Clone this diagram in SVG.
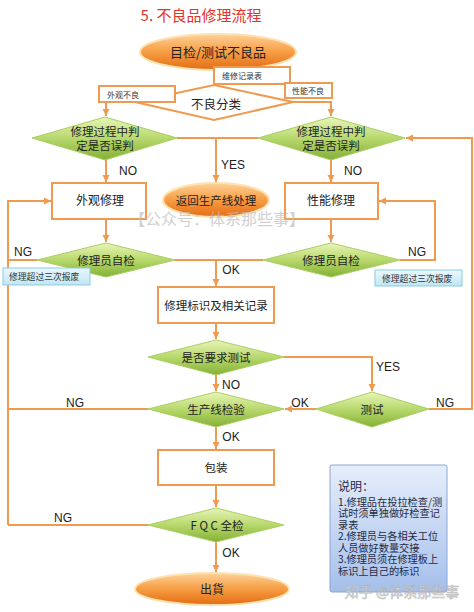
<svg xmlns="http://www.w3.org/2000/svg" width="474" height="612" viewBox="0 0 474 612">
<defs>
<linearGradient id="og" x1="0" y1="0" x2="0" y2="1">
<stop offset="0" stop-color="#fdd29a"/><stop offset="0.45" stop-color="#f8a24a"/><stop offset="1" stop-color="#e46c12"/>
</linearGradient>
<linearGradient id="gg" x1="0" y1="0" x2="0" y2="1">
<stop offset="0" stop-color="#e9f5b8"/><stop offset="0.5" stop-color="#b7d86c"/><stop offset="1" stop-color="#84b036"/>
</linearGradient>
<linearGradient id="bg" x1="0" y1="0" x2="0" y2="1">
<stop offset="0" stop-color="#eaf8fd"/><stop offset="1" stop-color="#bfe6f3"/>
</linearGradient>
<linearGradient id="ng" x1="0" y1="0" x2="0" y2="1">
<stop offset="0" stop-color="#e6eefb"/><stop offset="1" stop-color="#a5bfeb"/>
</linearGradient>
<marker id="ah" markerWidth="8" markerHeight="8" refX="7" refY="4" orient="auto" markerUnits="userSpaceOnUse">
<path d="M0,0.5 L7,4 L0,7.5 Z" fill="#f09a50"/>
</marker>
<style>
.ln{fill:none;stroke:#f09a50;stroke-width:2}
.bx{fill:#fff;stroke:#f09a50;stroke-width:2}
.gd{fill:url(#gg);stroke:#a9cf62;stroke-width:1}
.el{fill:url(#og);stroke:#fde2b0;stroke-width:2}
.t{font-family:"Noto Sans CJK SC","Microsoft YaHei",sans-serif;fill:#222;text-anchor:middle}
.s{font-family:"Noto Sans CJK SC","Microsoft YaHei",sans-serif;fill:#333;font-size:8px}
.lb{font-family:"Liberation Sans",Arial,sans-serif;fill:#222;font-size:12px;text-anchor:middle}
.tag{fill:url(#bg);stroke:#8ccbe0;stroke-width:1}
.nt{font-family:"Noto Sans CJK SC","Microsoft YaHei",sans-serif;fill:#1f2a44;font-size:10.2px}
</style>
</defs>
<rect width="474" height="612" fill="#fff"/>

<text x="201" y="21" class="t" style="font-size:15px;fill:#e2332d">5. 不良品修理流程</text>

<g id="connectors">
<path class="ln" d="M216,70 V85"/>
<path class="ln" d="M135,102 H106 V116" marker-end="url(#ah)"/>
<path class="ln" d="M293,102 H331 V116" marker-end="url(#ah)"/>
<path class="ln" d="M177,138 H258"/>
<path class="ln" d="M216,138 V182" marker-end="url(#ah)"/>
<path class="ln" d="M106,160 V182" marker-end="url(#ah)"/>
<path class="ln" d="M331,160 V182" marker-end="url(#ah)"/>
<path class="ln" d="M106,219 V242" marker-end="url(#ah)"/>
<path class="ln" d="M331,219 V242" marker-end="url(#ah)"/>
<path class="ln" d="M175,260 H263"/>
<path class="ln" d="M216,260 V286" marker-end="url(#ah)"/>
<path class="ln" d="M37,260 H8"/>
<path class="ln" d="M8,525 V201 H51" marker-end="url(#ah)"/>
<path class="ln" d="M400,260 H435 V201 H379" marker-end="url(#ah)"/>
<path class="ln" d="M216,323 V339" marker-end="url(#ah)"/>
<path class="ln" d="M284,357 H372 V391" marker-end="url(#ah)"/>
<path class="ln" d="M216,375 V391" marker-end="url(#ah)"/>
<path class="ln" d="M316,409 H285" marker-end="url(#ah)"/>
<path class="ln" d="M429,409 H472 V138 H406" marker-end="url(#ah)"/>
<path class="ln" d="M148,409 H8"/>
<path class="ln" d="M216,427 V449" marker-end="url(#ah)"/>
<path class="ln" d="M216,485 V507" marker-end="url(#ah)"/>
<path class="ln" d="M148,525 H8"/>
<path class="ln" d="M216,542 V572" marker-end="url(#ah)"/>
</g>

<g id="labels">
<text x="233" y="169" class="lb">YES</text>
<text x="128" y="175" class="lb">NO</text>
<text x="353" y="175" class="lb">NO</text>
<text x="23" y="256" class="lb">NG</text>
<text x="417" y="256" class="lb">NG</text>
<text x="231" y="274" class="lb">OK</text>
<text x="388" y="371" class="lb">YES</text>
<text x="231" y="389" class="lb">NO</text>
<text x="75" y="407" class="lb">NG</text>
<text x="300" y="407" class="lb">OK</text>
<text x="445" y="407" class="lb">NG</text>
<text x="231" y="441" class="lb">OK</text>
<text x="63" y="522" class="lb">NG</text>
<text x="231" y="557" class="lb">OK</text>
</g>

<g id="start">
<ellipse cx="218" cy="52" rx="78" ry="18" class="el"/>
<text x="218" y="57" class="t" style="font-size:13px">目检/测试不良品</text>
</g>
<g id="classify">
<polygon points="214,85 293,102 214,120 135,102" class="bx"/>
<text x="216" y="108.5" class="t" style="font-size:12.5px">不良分类</text>
</g>
<g id="record-tag">
<rect x="214" y="67" width="76" height="17" class="bx"/>
<text x="222" y="79" class="s">维修记录表</text>
</g>
<g id="tag-appearance">
<rect x="99" y="86" width="76" height="16" class="bx"/>
<text x="107" y="97.5" class="s">外观不良</text>
</g>
<g id="tag-function">
<rect x="285" y="83" width="47" height="15" class="bx"/>
<text x="292" y="94" class="s">性能不良</text>
</g>
<g id="judge-left">
<polygon points="32,138 105,117 177,138 105,160" class="gd"/>
<text x="105" y="136" class="t" style="font-size:11.5px">修理过程中判</text>
<text x="105" y="150" class="t" style="font-size:11.5px">定是否误判</text>
</g>
<g id="judge-right">
<polygon points="258,138 331,117 405,138 331,160" class="gd"/>
<text x="331" y="136" class="t" style="font-size:11.5px">修理过程中判</text>
<text x="331" y="150" class="t" style="font-size:11.5px">定是否误判</text>
</g>
<g id="return-line">
<ellipse cx="216" cy="200" rx="53" ry="17" class="el"/>
<text x="216" y="204.5" class="t" style="font-size:11.5px">返回生产线处理</text>
</g>
<g id="repair-appearance">
<rect x="52" y="183" width="94" height="36" class="bx"/>
<text x="100" y="205" class="t" style="font-size:12px">外观修理</text>
</g>
<g id="repair-function">
<rect x="285" y="183" width="93" height="36" class="bx"/>
<text x="331" y="205" class="t" style="font-size:12px">性能修理</text>
</g>
<text x="217" y="225" class="t" style="font-size:16px;fill:#bdbdbd;opacity:0.7">【公众号：体系那些事】</text>
<g id="selfcheck-left">
<polygon points="37,260 106,243 175,260 106,277" class="gd"/>
<text x="106" y="264.5" class="t" style="font-size:11.5px">修理员自检</text>
</g>
<g id="selfcheck-right">
<polygon points="263,260 331,243 400,260 331,277" class="gd"/>
<text x="331" y="264.5" class="t" style="font-size:11.5px">修理员自检</text>
</g>
<g id="scrap-left">
<rect x="3" y="268" width="87" height="17" class="tag"/>
<text x="9" y="280" class="s" style="font-size:8.8px">修理超过三次报废</text>
</g>
<g id="scrap-right">
<rect x="375" y="270" width="87" height="16" class="tag"/>
<text x="382" y="281.5" class="s" style="font-size:8.8px">修理超过三次报废</text>
</g>
<g id="mark-record">
<rect x="158" y="287" width="116" height="36" class="bx"/>
<text x="216" y="310" class="t" style="font-size:11.5px">修理标识及相关记录</text>
</g>
<g id="need-test">
<polygon points="148,357 216,340 284,357 216,375" class="gd"/>
<text x="216" y="362" class="t" style="font-size:11.5px">是否要求测试</text>
</g>
<g id="line-inspect">
<polygon points="148,409 216,392 284,409 216,427" class="gd"/>
<text x="216" y="413.5" class="t" style="font-size:11.5px">生产线检验</text>
</g>
<g id="test">
<polygon points="316,409 372,392 429,409 372,427" class="gd"/>
<text x="372" y="413.5" class="t" style="font-size:11.5px">测试</text>
</g>
<g id="pack">
<rect x="158" y="450" width="116" height="35" class="bx"/>
<text x="216" y="472" class="t" style="font-size:11.5px">包装</text>
</g>
<g id="fqc">
<polygon points="148,525 216,508 284,525 216,542" class="gd"/>
<text x="217" y="529.5" class="t" style="font-size:11.5px">F Q C 全检</text>
</g>
<g id="ship">
<ellipse cx="212" cy="589" rx="77" ry="16" class="el"/>
<text x="212" y="594" class="t" style="font-size:12px">出貨</text>
</g>
<g id="note">
<rect x="330" y="465" width="117" height="127" rx="2" fill="url(#ng)" stroke="#8aa6d6" stroke-width="1"/>
<text x="338" y="491" class="nt" style="font-size:12px">说明：</text>
<text x="338" y="505.5" class="nt">1.修理品在投拉检查/测</text>
<text x="338" y="517" class="nt">试时须单独做好检查记</text>
<text x="338" y="528.5" class="nt">录表</text>
<text x="338" y="540" class="nt">2.修理员与各相关工位</text>
<text x="338" y="551.5" class="nt">人员做好数量交接</text>
<text x="338" y="563" class="nt">3.修理员须在修理板上</text>
<text x="338" y="574.5" class="nt">标识上自己的标识</text>
</g>
<text x="402" y="597" class="t" style="font-size:14px;fill:#e8e8e8;stroke:#b0b0b0;stroke-width:0.6;opacity:0.85">知乎 @体系那些事</text>
</svg>
